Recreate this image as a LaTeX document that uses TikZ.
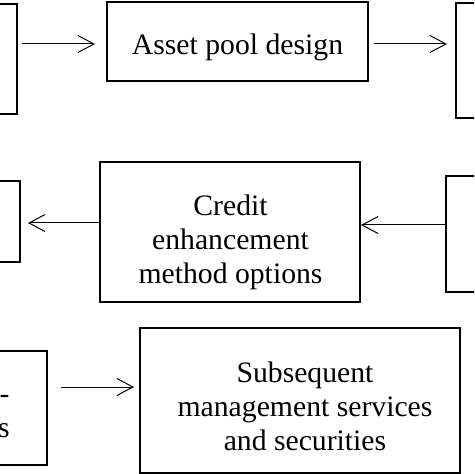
\documentclass[tikz,border=0pt]{standalone}
\usepackage{fontspec}
\setmainfont{Liberation Serif}
\usetikzlibrary{arrows.meta}
\tikzstyle{box}=[rectangle,minimum size=0.3cm,inner sep=0pt, line width=1pt, draw=black, anchor = center]
\tikzstyle{annot} = [align=center, inner sep=0pt, font=\fontsize{14.85}{17}\selectfont]
\tikzstyle{link} = [line width=0.5pt, -{Straight Barb[length=8pt,width=8.5pt]}]

\begin{document}
\begin{tikzpicture}[x=0.5pt, y=-0.5pt]
	\useasboundingbox (0,0) rectangle (474,474);
	\clip (0,0) rectangle (474,474);

	% top row
	\node[box, minimum width=48.5pt, minimum height=55pt](cut1) at (-31.5,59){};
	\node[box, minimum width=130.5pt, minimum height=39.5pt](pool) at (237.5,41.5){};
	\node[box, minimum width=42pt, minimum height=57.5pt](cut2) at (498,60.5){};
	\node[annot] at (237.5,47) {Asset pool design};

	% middle row
	\node[box, minimum width=50pt, minimum height=40.5pt](cut3) at (-30,221.5){};
	\node[box, minimum width=130pt, minimum height=70pt](credit) at (230,232){};
	\node[box, minimum width=47pt, minimum height=58pt](cut4) at (493,234){};
	\node[annot] at (230.5,242) {Credit\\enhancement\\method options};

	% bottom row
	\node[box, minimum width=63.5pt, minimum height=57pt](cut5) at (-16.5,408){};
	\node[box, minimum width=160pt, minimum height=72.5pt](manage) at (300,400.5){};
	\node[annot, align=right, anchor=east] at (10,417) {-\\s};
	\node[annot] at (305,406.5) {Subsequent\\management services\\and securities};

	\draw[link, shorten <=2pt, shorten >=5.5pt] ([yshift=-1.25pt]cut1.east |- pool.west) -- ([yshift=-1.25pt]pool.west);
	\draw[link, shorten <=2.5pt, shorten >=4pt] ([yshift=-1.25pt]pool.east) -- ([yshift=-1.25pt]pool.east -| cut2.west);
	\draw[link, shorten >=3.5pt] ([yshift=-0.75pt]credit.west |- cut3.east) -- ([yshift=-0.75pt]cut3.east);
	\draw[link] ([yshift=3.5pt]cut4.west |- credit.east) -- ([yshift=3.5pt]credit.east);
	\draw[link, shorten <=6.5pt, shorten >=2.5pt] ([yshift=6.75pt]cut5.east |- manage.west) -- ([yshift=6.75pt]manage.west);

\end{tikzpicture}
\end{document}
